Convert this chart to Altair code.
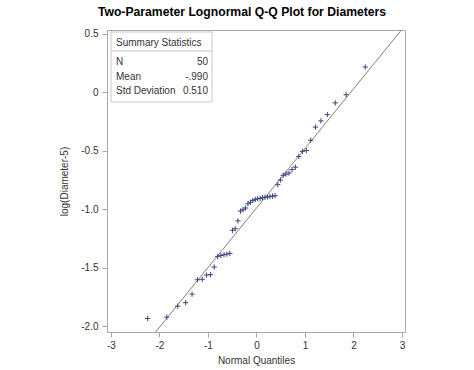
import altair as alt
import pandas as pd

# ---- data ----
QUANTILES = [-2.243, -1.848, -1.624, -1.460, -1.328, -1.216, -1.118, -1.029, -0.948, -0.872,
             -0.802, -0.734, -0.670, -0.609, -0.550, -0.493, -0.438, -0.383, -0.330, -0.278,
             -0.227, -0.176, -0.125, -0.075, -0.025, 0.025, 0.075, 0.125, 0.176, 0.227,
             0.278, 0.330, 0.383, 0.438, 0.493, 0.550, 0.609, 0.670, 0.734, 0.802,
             0.872, 0.948, 1.029, 1.118, 1.216, 1.328, 1.460, 1.624, 1.848, 2.243]
LOG_DIAM = [-1.935, -1.924, -1.830, -1.800, -1.727, -1.604, -1.600, -1.564, -1.560, -1.495,
            -1.404, -1.396, -1.390, -1.384, -1.378, -1.180, -1.167, -1.100, -1.016, -1.004,
            -0.990, -0.953, -0.940, -0.925, -0.916, -0.910, -0.908, -0.900, -0.898, -0.896,
            -0.890, -0.888, -0.884, -0.790, -0.750, -0.710, -0.700, -0.690, -0.660, -0.640,
            -0.548, -0.505, -0.497, -0.410, -0.297, -0.244, -0.190, -0.090, -0.020, 0.217]

MU = -0.990
SIGMA = 0.510
LINE_X = [-3.082, 3.062]

STAT_HEADER = "Summary Statistics"
STAT_NAMES = ["N", "Mean", "Std Deviation"]
STAT_VALUES = ["50", "-.990", "0.510"]

X_TICKS = [-3, -2, -1, 0, 1, 2, 3]
X_LABELS = ["-3", "-2", "-1", "0", "1", "2", "3"]
Y_TICKS = [0.5, 0, -0.5, -1.0, -1.5, -2.0]
Y_LABELS = ["0.5", "0", "-0.5", "-1.0", "-1.5", "-2.0"]

X_DOMAIN = [-3.082, 3.062]
Y_DOMAIN = [-2.051, 0.534]

TITLE = "Two-Parameter Lognormal Q-Q Plot for Diameters"
X_TITLE = "Normal Quantiles"
Y_TITLE = "log(Diameter-5)"


def label_expr(ticks, labels):
    expr = "''"
    for t, l in reversed(list(zip(ticks, labels))):
        expr = f"abs(datum.value - ({t})) < 1e-6 ? '{l}' : ({expr})"
    return expr


pts = pd.DataFrame({"q": QUANTILES, "y": LOG_DIAM})
line_df = pd.DataFrame({"q": LINE_X, "y": [MU + SIGMA * v for v in LINE_X]})

FONT = "Liberation Sans"
GRID = "#a8a8a8"
TEXT = "#333333"

xscale = alt.Scale(domain=X_DOMAIN, nice=False, zero=False)
yscale = alt.Scale(domain=Y_DOMAIN, nice=False, zero=False)

xaxis = alt.Axis(values=X_TICKS, labelExpr=label_expr(X_TICKS, X_LABELS), title=X_TITLE,
                 grid=False, tickSize=5, labelPadding=3, titlePadding=5,
                 labelFontSize=10, titleFontSize=10, titleFontWeight="normal")
yaxis = alt.Axis(values=Y_TICKS, labelExpr=label_expr(Y_TICKS, Y_LABELS), title=Y_TITLE,
                 grid=False, tickSize=5, labelPadding=4, titlePadding=11,
                 labelFontSize=10, titleFontSize=10, titleFontWeight="normal")

fit = alt.Chart(line_df).mark_line(color="#8c7e6a", strokeWidth=1, clip=True).encode(
    x=alt.X("q:Q", scale=xscale, axis=xaxis),
    y=alt.Y("y:Q", scale=yscale, axis=yaxis),
)

points = alt.Chart(pts).mark_point(
    shape="M-1,0L1,0M0,-1L0,1", size=28, filled=False, color="#3a4880", strokeWidth=1, opacity=1
).encode(
    x=alt.X("q:Q", scale=xscale),
    y=alt.Y("y:Q", scale=yscale),
)

one = alt.Data(values=[{}])
box = alt.Chart(one).mark_rect(fill="white", stroke="#c8c8c8", strokeWidth=1).encode(
    x=alt.value(4), x2=alt.value(105), y=alt.value(2), y2=alt.value(72)
)
sep = alt.Chart(one).mark_rule(color="#c8c8c8", strokeWidth=1).encode(
    x=alt.value(4), x2=alt.value(105), y=alt.value(21)
)
header = alt.Chart(one).mark_text(text=STAT_HEADER, align="left", baseline="middle",
                                  font=FONT, fontSize=10, color=TEXT).encode(
    x=alt.value(9), y=alt.value(13)
)
ROW_Y = [32, 47, 61]
rows = []
for i, (n, v) in enumerate(zip(STAT_NAMES, STAT_VALUES)):
    rows.append(alt.Chart(one).mark_text(text=n, align="left", baseline="middle",
                                         font=FONT, fontSize=10, color=TEXT).encode(
        x=alt.value(9), y=alt.value(ROW_Y[i])))
    rows.append(alt.Chart(one).mark_text(text=v, align="right", baseline="middle",
                                         font=FONT, fontSize=10, color=TEXT).encode(
        x=alt.value(101), y=alt.value(ROW_Y[i])))

chart = alt.layer(fit, points, box, sep, header, *rows).properties(
    width=298, height=302,
    title=alt.TitleParams(TITLE, font=FONT, fontSize=12.2, fontWeight="bold", color="#000000",
                          anchor="middle", dx=-14, offset=11),
    autosize=alt.AutoSizeParams(type="none"),
    padding={"left": 107, "top": 30, "right": 69, "bottom": 38},
).configure(
    background="white",
).configure_view(
    stroke=GRID, strokeWidth=1,
).configure_axis(
    domainColor=GRID, tickColor=GRID, labelColor=TEXT, titleColor=TEXT,
    labelFont=FONT, titleFont=FONT,
)

chart.save("out.html", embed_options={"renderer": "svg", "actions": False})
